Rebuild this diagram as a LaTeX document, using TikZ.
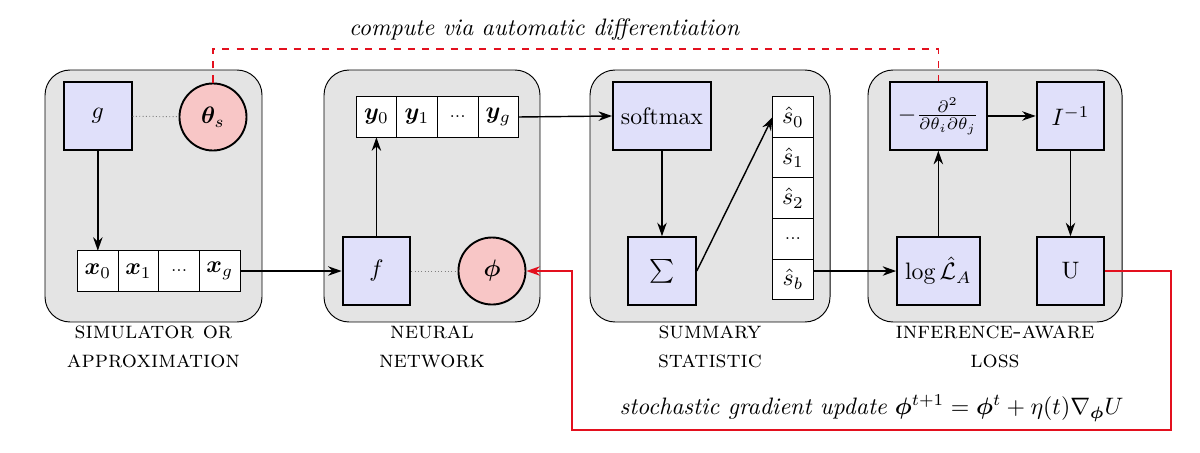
\documentclass[tikz,border=0pt]{standalone}
\usepackage{tikz}
\usetikzlibrary{calc, arrows.meta, positioning}
\usepackage{amsmath}
\usepackage{amssymb}
\usepackage{bm}
\definecolor{nnblue}{HTML}{E0E0FA}
\definecolor{nnpink}{HTML}{F8C6C6}
\definecolor{nngray}{HTML}{E4E4E4}
\definecolor{nnred}{HTML}{E3101E}

\begin{document}
\begin{tikzpicture}[>={Stealth[length=2mm,width=1.4mm]},
    opbox/.style={draw, thick, fill=nnblue, minimum width=1cm, minimum height=1cm},
    param/.style={draw, thick, circle, fill=nnpink, minimum size=0.99cm, inner sep=0pt},
    cell/.style={draw, fill=white, minimum width=0.6cm, minimum height=0.6cm, inner sep=0pt, outer sep=0pt},
    panel/.style={draw, fill=nngray, rounded corners=0.37cm},
    flow/.style={->, semithick}]
    \useasboundingbox (0,0) rectangle (17.725,-6.691);

    % Grey blocks
    \draw[panel] (0.665,-1.034) rectangle (3.870,-4.756);
    \draw[panel] (4.786,-1.034) rectangle (7.976,-4.756);
    \draw[panel] (8.715,-1.034) rectangle (12.260,-4.756);
    \draw[panel] (12.821,-1.034) rectangle (16.573,-4.756);

    \node[align=center] (lab1) at (2.267,-5.125) {\textsc{simulator or}\\\textsc{approximation}};
    \node[align=center] (lab2) at (6.381,-5.125) {\textsc{neural}\\\textsc{network}};
    \node[align=center] (lab3) at (10.487,-5.125) {\textsc{summary}\\\textsc{statistic}};
    \node[align=center] (lab4) at (14.697,-5.125) {\textsc{inference-aware}\\\textsc{loss}};

    % Simulator
    \node[opbox] (g) at (1.445,-1.713) {$g$};
    \node[param] (theta) at (3.146,-1.728) {$\bm{\theta}_s$};
    \draw[densely dotted, gray] (g) -- (theta);
    \node[cell] (x0) at (1.445,-4.003) {$\bm{x}_0$};
    \node[cell, right=0pt of x0] (x1) {$\bm{x}_1$};
    \node[cell, right=0pt of x1] (xd) {\scriptsize...};
    \node[cell, right=0pt of xd] (xg) {$\bm{x}_g$};
    \draw[flow] (g.south) -- (x0.north);

    % Neural network
    \node[opbox] (f) at (5.560,-4.003) {$f$};
    \node[param] (phi) at (7.267,-4.003) {$\bm{\phi}$};
    \draw[densely dotted, gray] (f) -- (phi);
    \node[cell] (y0) at (5.560,-1.728) {$\bm{y}_0$};
    \node[cell, right=0pt of y0] (y1) {$\bm{y}_1$};
    \node[cell, right=0pt of y1] (yd) {\scriptsize...};
    \node[cell, right=0pt of yd] (yg) {$\bm{y}_g$};
    \draw[flow] (xg.east) -- (f.west);
    \draw[flow] (f.north) -- (y0.south);

    % Summary statistic
    \node[opbox, minimum width=1.43cm] (softmax) at (9.778,-1.713) {softmax};
    \node[opbox] (sigma) at (9.778,-4.003) {$\sum$};
    \node[cell] (s0) at (11.713,-1.728) {$\hat{s}_0$};
    \node[cell, below=0pt of s0] (s1) {$\hat{s}_1$};
    \node[cell, below=0pt of s1] (s2) {$\hat{s}_2$};
    \node[cell, below=0pt of s2] (sd) {\scriptsize...};
    \node[cell, below=0pt of sd] (sb) {$\hat{s}_b$};
    \draw[flow] (yg.east) -- (softmax.west);
    \draw[flow] (softmax.south) -- (sigma.north);
    \draw[flow] (sigma.east) -- (s0.west);

    % Inference-aware loss
    \node[opbox, minimum width=1.42cm] (hess) at (13.860,-1.713) {$-\frac{\partial^2}{\partial\theta_i\partial\theta_j}$};
    \node[opbox] (iinv) at (15.812,-1.713) {$I^{-1}$};
    \node[opbox, minimum width=1.2cm] (logl) at (13.860,-4.003) {$\log\hat{\mathcal{L}}_A$};
    \node[opbox] (u) at (15.812,-4.003) {U};
    \draw[flow] (sb.east |- logl.west) -- (logl.west);
    \draw[flow] (logl.north) -- (hess.south);
    \draw[flow] (hess.east) -- (iinv.west);
    \draw[flow] (iinv.south) -- (u.north);

    % Feedback paths
    \coordinate (dl) at (3.146,-0.724);
    \coordinate (dr) at (13.860,-0.724);
    \draw[nnred, semithick, dashed] (theta.north) -- (dl)
        -- node[above, pos=0.457, text=black] {\textit{compute via automatic differentiation}} (dr)
        -- (hess.north);

    \coordinate (rb) at (17.297,-6.352);
    \coordinate (lb) at (8.449,-6.352);
    \draw[nnred, semithick, ->] (u.east) -| (rb)
        -- node[above, text=black] {\textit{stochastic gradient update} $\bm{\phi}^{t+1} = \bm{\phi}^{t} + \eta(t)\nabla_{\bm{\phi}} U$} (lb)
        |- (phi.east);
\end{tikzpicture}
\end{document}
